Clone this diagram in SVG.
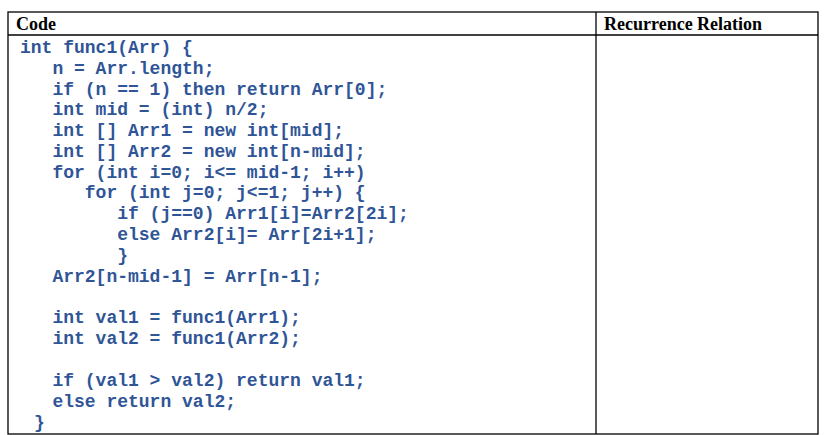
<svg xmlns="http://www.w3.org/2000/svg" width="825" height="435" viewBox="0 0 825 435">
<style>
.h{font-family:"Liberation Serif",serif;font-weight:bold;font-size:18px;fill:#000}
.c{font-family:"Liberation Mono",monospace;font-weight:bold;font-size:18px;fill:#2f5597;white-space:pre}
.b{fill:none;stroke:#000;stroke-width:1.3}
</style>
<rect width="825" height="435" fill="#fff"/>
<g id="table">
<rect class="b" x="8" y="12" width="810" height="422"/>
<line class="b" x1="8" y1="35" x2="818" y2="35"/>
<line class="b" x1="596" y1="12" x2="596" y2="434"/>
</g>
<g id="header">
<text class="h" x="16" y="30">Code</text>
<text class="h" x="604" y="30">Recurrence Relation</text>
</g>
<g id="code" xml:space="preserve">
<text class="c" x="20" y="53">int func1(Arr) {</text>
<text class="c" x="20" y="74">   n = Arr.length;</text>
<text class="c" x="20" y="95">   if (n == 1) then return Arr[0];</text>
<text class="c" x="20" y="115">   int mid = (int) n/2;</text>
<text class="c" x="20" y="136">   int [] Arr1 = new int[mid];</text>
<text class="c" x="20" y="157">   int [] Arr2 = new int[n-mid];</text>
<text class="c" x="20" y="178">   for (int i=0; i&lt;= mid-1; i++)</text>
<text class="c" x="20" y="198">      for (int j=0; j&lt;=1; j++) {</text>
<text class="c" x="20" y="219">         if (j==0) Arr1[i]=Arr2[2i];</text>
<text class="c" x="20" y="240">         else Arr2[i]= Arr[2i+1];</text>
<text class="c" x="20" y="261">         }</text>
<text class="c" x="20" y="282">   Arr2[n-mid-1] = Arr[n-1];</text>
<text class="c" x="20" y="323">   int val1 = func1(Arr1);</text>
<text class="c" x="20" y="344">   int val2 = func1(Arr2);</text>
<text class="c" x="20" y="386">   if (val1 &gt; val2) return val1;</text>
<text class="c" x="20" y="407">   else return val2;</text>
<text class="c" x="34" y="428">}</text>
</g>
</svg>
